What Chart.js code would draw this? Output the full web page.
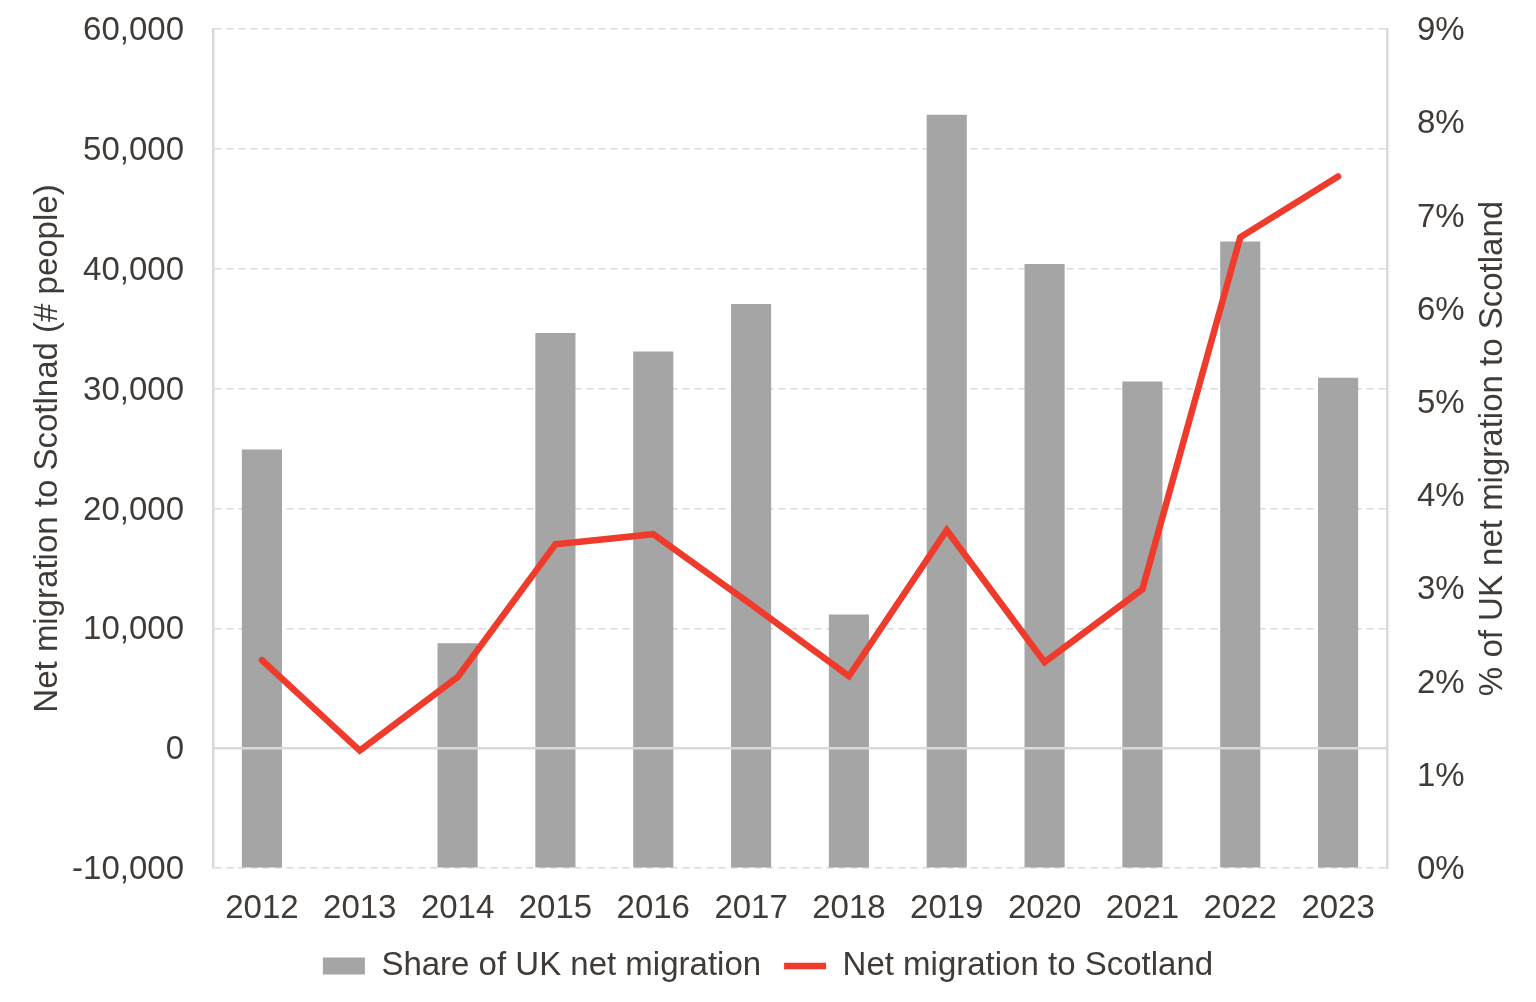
<!DOCTYPE html>
<html>
<head>
<meta charset="utf-8">
<script src="https://cdn.jsdelivr.net/npm/chart.js@4.4.1/dist/chart.umd.min.js"></script>
<style>
  html, body { margin: 0; padding: 0; background: #fff; }
  #wrap { width: 1536px; height: 1002px; }
</style>
</head>
<body>
<div id="wrap"><canvas id="chart" width="1536" height="1002"></canvas></div>
<script>
const years = ['2012', '2013', '2014', '2015', '2016', '2017', '2018', '2019', '2020', '2021', '2022', '2023'];
// share of UK net migration, in %
const shareUK = [4.49, 0, 2.41, 5.74, 5.54, 6.05, 2.72, 8.08, 6.48, 5.22, 6.72, 5.26];
// net migration to Scotland, people
const netScotland = [7340, -200, 5920, 17010, 17850, 12000, 6000, 18180, 7170, 13260, 42620, 47700];
const leftTicks = [-10000, 0, 10000, 20000, 30000, 40000, 50000, 60000];
const rightTicks = [0, 1, 2, 3, 4, 5, 6, 7, 8, 9];

const textColor = '#403b37';
const gridColor = '#d9d9d9';
const font = 'Liberation Sans';
const legendGap = 23;

// zero line goes over the bars but under the red line
const zeroLine = {
  id: 'zeroLine',
  afterDatasetDraw(chart, args) {
    if (args.index !== 0) return;
    const y = chart.scales.y.getPixelForValue(0);
    const ctx = chart.ctx;
    ctx.save();
    ctx.strokeStyle = gridColor;
    ctx.lineWidth = 2.5;
    ctx.beginPath();
    ctx.moveTo(chart.chartArea.left, y);
    ctx.lineTo(chart.chartArea.right, y);
    ctx.stroke();
    ctx.restore();
  }
};

// right axis title reads bottom-to-top like the left one
const rightTitle = {
  id: 'rightTitle',
  afterDraw(chart) {
    const ctx = chart.ctx;
    const area = chart.chartArea;
    ctx.save();
    ctx.translate(1493, (area.top + area.bottom) / 2);
    ctx.rotate(-Math.PI / 2);
    ctx.font = '33px "' + font + '"';
    ctx.fillStyle = textColor;
    ctx.textAlign = 'center';
    ctx.textBaseline = 'middle';
    ctx.fillText('% of UK net migration to Scotland', 0, 0);
    ctx.restore();
  }
};

const ctx = document.getElementById('chart').getContext('2d');
new Chart(ctx, {
  type: 'bar',
  data: {
    labels: years,
    datasets: [{
      type: 'bar',
      label: 'Share of UK net migration',
      data: shareUK,
      yAxisID: 'y1',
      backgroundColor: '#a5a5a5',
      barPercentage: 0.41,
      categoryPercentage: 1,
      pointStyle: 'rect',
      order: 1
    }, {
      type: 'line',
      label: 'Net migration to Scotland',
      data: netScotland,
      yAxisID: 'y',
      borderColor: '#ef3b2c',
      backgroundColor: '#ef3b2c',
      borderWidth: 6.5,
      borderCapStyle: 'round',
      borderJoinStyle: 'miter',
      pointRadius: 0,
      pointStyle: 'line',
      tension: 0,
      order: 0
    }]
  },
  options: {
    responsive: false,
    animation: false,
    layout: { padding: { top: 29, bottom: 9.5, left: 0, right: 0 } },
    plugins: {
      tooltip: { enabled: false },
      legend: {
        position: 'bottom',
        labels: {
          usePointStyle: true,
          pointStyleWidth: 42,
          boxHeight: 17,
          padding: legendGap,
          color: textColor,
          font: { family: font, size: 33 },
          sort: (a, b) => a.datasetIndex - b.datasetIndex
        }
      }
    },
    scales: {
      x: {
        grid: { display: false },
        border: { display: false },
        ticks: { color: textColor, font: { family: font, size: 33 }, padding: 13, maxRotation: 0 },
        afterFit: s => { s.height = 58.5; }
      },
      y: {
        position: 'left',
        min: -10000,
        max: 60000,
        afterBuildTicks: s => { s.ticks = leftTicks.map(v => ({ value: v })); },
        ticks: {
          color: textColor,
          font: { family: font, size: 33 },
          padding: 0,
          labelOffset: 2,
          callback: v => v.toLocaleString('en-US')
        },
        // invisible tick marks keep the labels clear of the axis
        grid: {
          color: gridColor,
          lineWidth: 1.5,
          drawTicks: true,
          tickLength: 29,
          tickColor: 'transparent'
        },
        border: { color: gridColor, width: 2.5, dash: [7, 5] },
        title: {
          display: true,
          text: 'Net migration to Scotlnad (# people)',
          color: textColor,
          font: { family: font, size: 33 },
          padding: { top: 28, bottom: 0 }
        },
        afterFit: s => { s.width = 213; }
      },
      y1: {
        position: 'right',
        min: 0,
        max: 9,
        afterBuildTicks: s => { s.ticks = rightTicks.map(v => ({ value: v })); },
        ticks: {
          color: textColor,
          font: { family: font, size: 33 },
          padding: 0,
          labelOffset: 2,
          callback: v => v + '%'
        },
        grid: {
          drawOnChartArea: false,
          drawTicks: true,
          tickLength: 30,
          tickColor: 'transparent'
        },
        border: { color: gridColor, width: 2.5 },
        afterFit: s => { s.width = 149; }
      }
    }
  },
  plugins: [zeroLine, rightTitle]
});
</script>
</body>
</html>
